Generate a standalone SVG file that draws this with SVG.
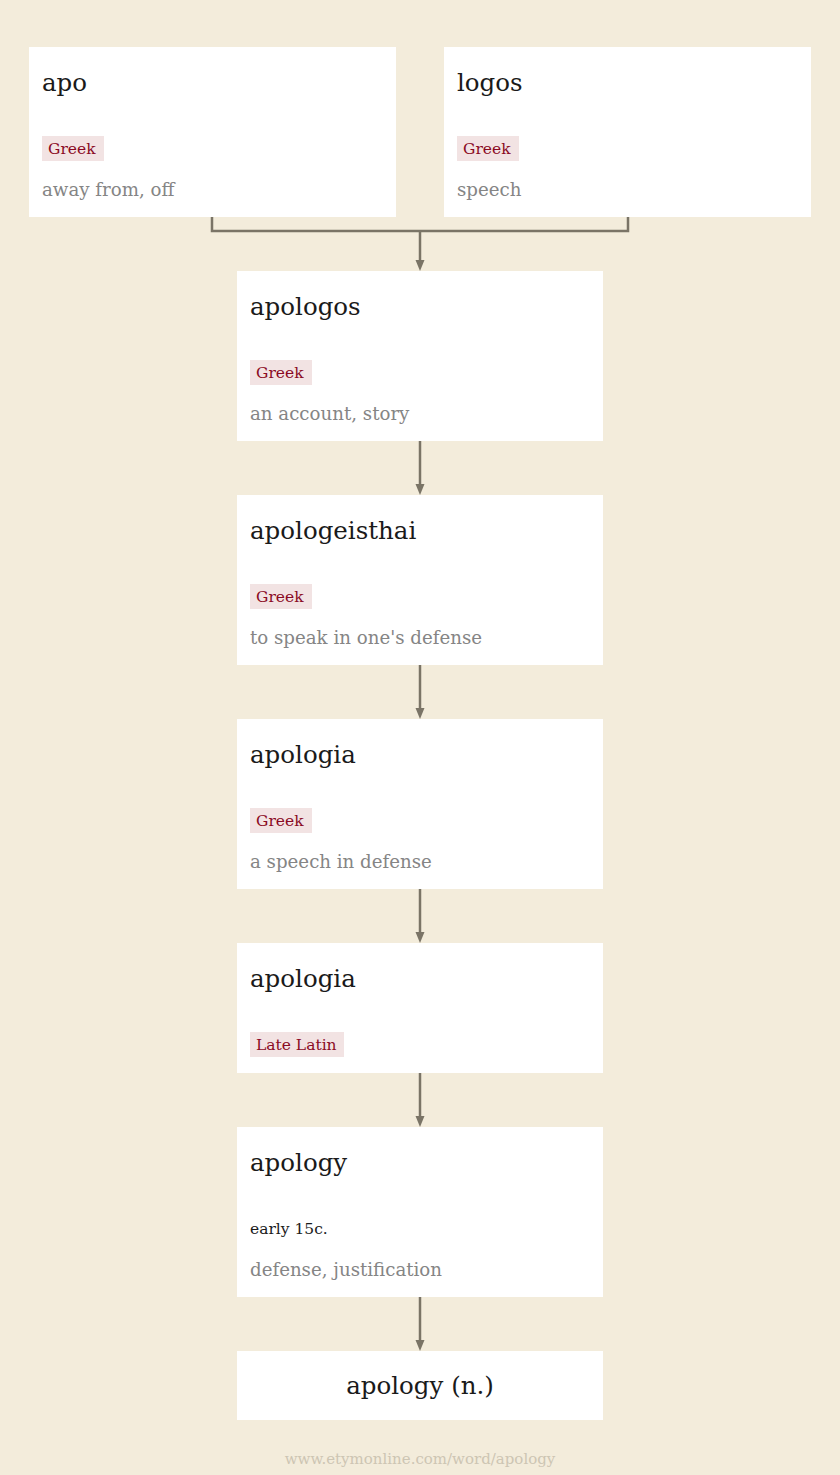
<svg xmlns="http://www.w3.org/2000/svg" width="840" height="1475" viewBox="0 0 840 1475">
<defs>
<path id="ah" d="M-4.5,-11 L4.5,-11 L0,0 z" fill="#7a7466"/>
</defs>
<style>
.box{fill:#ffffff}
.t{font-family:"DejaVu Serif","Liberation Serif",serif;font-size:24.5px;fill:#1a1a1a}
.tag{fill:#f2e3e3}
.tt{font-family:"DejaVu Serif","Liberation Serif",serif;font-size:15.5px;fill:#8b0a24}
.g{font-family:"DejaVu Serif","Liberation Serif",serif;font-size:18.2px;fill:#858585}
.d{font-family:"DejaVu Serif","Liberation Serif",serif;font-size:15.5px;fill:#1a1a1a}
.c{fill:none;stroke:#7a7466;stroke-width:2.5}
</style>
<rect width="840" height="1475" fill="#f3ecdb"/>
<g id="connectors">
<path class="c" d="M212,217 V231 H628 V217"/>
<path class="c" d="M420,231 V262"/>
<use href="#ah" x="420" y="271"/>
<path class="c" d="M420,441 V486"/>
<use href="#ah" x="420" y="495"/>
<path class="c" d="M420,665 V710"/>
<use href="#ah" x="420" y="719"/>
<path class="c" d="M420,889 V934"/>
<use href="#ah" x="420" y="943"/>
<path class="c" d="M420,1073 V1118"/>
<use href="#ah" x="420" y="1127"/>
<path class="c" d="M420,1297 V1342"/>
<use href="#ah" x="420" y="1351"/>
</g>
<g id="apo">
<rect class="box" x="29" y="47" width="367" height="170"/>
<text class="t" x="42" y="91">apo</text>
<rect class="tag" x="42" y="136" width="62" height="25"/>
<text class="tt" x="48" y="154">Greek</text>
<text class="g" x="42" y="196">away from, off</text>
</g>
<g id="logos">
<rect class="box" x="444" y="47" width="367" height="170"/>
<text class="t" x="457" y="91">logos</text>
<rect class="tag" x="457" y="136" width="62" height="25"/>
<text class="tt" x="463" y="154">Greek</text>
<text class="g" x="457" y="196">speech</text>
</g>
<g id="apologos">
<rect class="box" x="237" y="271" width="366" height="170"/>
<text class="t" x="250" y="315">apologos</text>
<rect class="tag" x="250" y="360" width="62" height="25"/>
<text class="tt" x="256" y="378">Greek</text>
<text class="g" x="250" y="420">an account, story</text>
</g>
<g id="apologeisthai">
<rect class="box" x="237" y="495" width="366" height="170"/>
<text class="t" x="250" y="539">apologeisthai</text>
<rect class="tag" x="250" y="584" width="62" height="25"/>
<text class="tt" x="256" y="602">Greek</text>
<text class="g" x="250" y="644">to speak in one's defense</text>
</g>
<g id="apologia-greek">
<rect class="box" x="237" y="719" width="366" height="170"/>
<text class="t" x="250" y="763">apologia</text>
<rect class="tag" x="250" y="808" width="62" height="25"/>
<text class="tt" x="256" y="826">Greek</text>
<text class="g" x="250" y="868">a speech in defense</text>
</g>
<g id="apologia-latin">
<rect class="box" x="237" y="943" width="366" height="130"/>
<text class="t" x="250" y="987">apologia</text>
<rect class="tag" x="250" y="1032" width="94" height="25"/>
<text class="tt" x="256" y="1050">Late Latin</text>
</g>
<g id="apology">
<rect class="box" x="237" y="1127" width="366" height="170"/>
<text class="t" x="250" y="1171">apology</text>
<text class="d" x="250" y="1234">early 15c.</text>
<text class="g" x="250" y="1276">defense, justification</text>
</g>
<g id="apology-n">
<rect class="box" x="237" y="1351" width="366" height="69"/>
<text class="t" x="420" y="1394" text-anchor="middle">apology (n.)</text>
</g>
<text x="420" y="1464" text-anchor="middle" font-family="DejaVu Serif, Liberation Serif, serif" font-size="15" fill="#cdc5b3">www.etymonline.com/word/apology</text>
</svg>
